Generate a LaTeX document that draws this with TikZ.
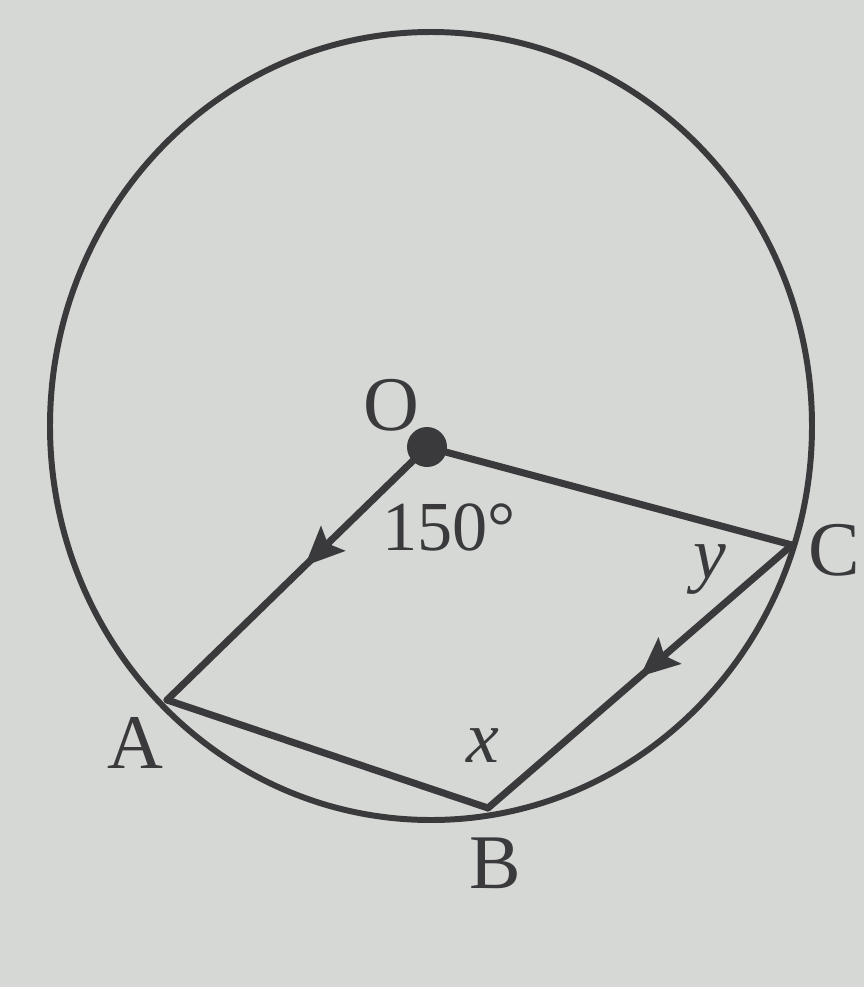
\documentclass[tikz,border=0pt]{standalone}
\usepackage{fontspec}
\setmainfont{Liberation Serif}
\usetikzlibrary{arrows.meta,decorations.markings}
\definecolor{paper}{RGB}{214,216,213}
\definecolor{ink}{RGB}{58,58,60}
\tikzset{
  seg/.style={draw=ink, line width=4pt, line cap=round, line join=round},
  rim/.style={draw=ink, line width=3.4pt},
  midarrow/.style={postaction={decorate},
    decoration={markings, mark=at position #1 with
      {\arrow{Stealth[length=0.78cm,width=0.68cm,inset=0.14cm,color=ink]}}}},
  lbl/.style={text=ink, inner sep=0pt, font=\fontsize{44}{48}\selectfont},
  angl/.style={text=ink, inner sep=0pt, font=\fontsize{42}{46}\selectfont\itshape},
}

\begin{document}
\begin{tikzpicture}[x=0.02cm, y=-0.02cm]
      \fill[paper] (0,0) rectangle (864,987);

      % points of the figure
      \coordinate (O) at (427,447);
      \coordinate (A) at (167,700);
      \coordinate (B) at (488,808);
      \coordinate (C) at (792,545);
      \coordinate (Centre) at (431,426);

      \path[rim] (Centre) ellipse [x radius=381, y radius=394];

      \path[seg] (O) -- (C);
      \path[seg] (A) -- (B);
      \path[seg, midarrow=0.47] (O) -- (A);
      \path[seg, midarrow=0.5] (C) -- (B);
      \fill[ink] (O) circle (20);

      \node[lbl] (labO) at (391,405) {O};
      \node[lbl] (labA) at (135,743) {A};
      \node[lbl] (labB) at (495,863) {B};
      \node[lbl] (labC) at (834,550) {C};
      \node[lbl, font=\fontsize{40}{44}\selectfont] (labAngle) at (449,527) {150°};
      \node[angl] (labX) at (483,746) {x};
      \node[angl] (labY) at (710,570) {y};
\end{tikzpicture}
\end{document}
